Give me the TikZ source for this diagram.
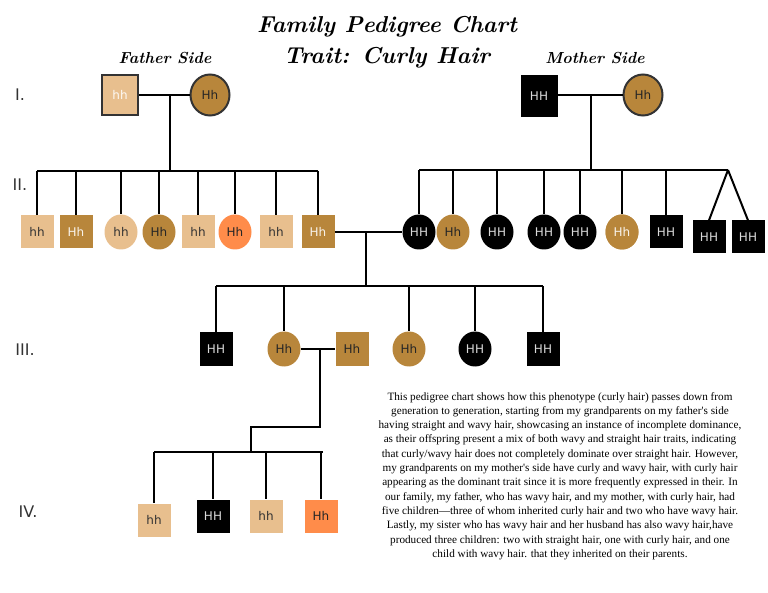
\documentclass[tikz,border=0pt]{standalone}
\usepackage{fontspec}
\setsansfont{DejaVu Sans}
\newfontfamily\parafont{Liberation Serif}
\usetikzlibrary{shapes.geometric}
\definecolor{straight}{HTML}{E8BF8E}
\definecolor{wavy}{HTML}{B8863B}
\definecolor{curlyorange}{HTML}{FF8C4A}
\tikzset{
  sq/.style={rectangle,minimum width=33pt,minimum height=33pt,inner sep=0pt,font=\sffamily\fontsize{12}{14}\selectfont},
  ci/.style={ellipse,minimum width=33pt,minimum height=35pt,inner sep=0pt,font=\sffamily\fontsize{12}{14}\selectfont},
  hh/.style={fill=straight,text=black!80},
  Hh/.style={fill=wavy,text=black!85},
  HH/.style={fill=black,text=white!85!black},
  Ho/.style={fill=curlyorange,text=black!85},
  line/.style={line width=2pt,black},
  gen/.style={font=\sffamily\fontsize{16}{18}\selectfont,text=black!80}
}
\begin{document}
\begin{tikzpicture}[x=1pt,y=-1pt]
    \useasboundingbox (0,0) rectangle (768,593);
    % titles
    \node[font=\bfseries\itshape\fontsize{23}{26}\selectfont] (title) at (387,27) {Family Pedigree Chart};
    \node[font=\bfseries\itshape\fontsize{23}{26}\selectfont] (trait) at (387,58) {Trait: Curly Hair};
    \node[font=\bfseries\itshape\fontsize{16}{18}\selectfont] (fside) at (165,58) {Father Side};
    \node[font=\bfseries\itshape\fontsize{16}{18}\selectfont] (mside) at (595,58) {Mother Side};
    \node[gen] (g1) at (20,95) {I.};
    \node[gen] (g2) at (20,185) {II.};
    \node[gen] (g3) at (25,350) {III.};
    \node[gen] (g4) at (28,512) {IV.};
    % generation I
    \node[sq,hh,draw=black!80,line width=2pt,minimum width=36pt,minimum height=40pt,text=white!90!straight] (fgf) at (120,95) {hh};
    \node[ci,Hh,draw=black!80,line width=2pt,minimum width=39pt,minimum height=41pt] (fgm) at (210,95) {Hh};
    \node[sq,HH,minimum width=37pt,minimum height=42pt] (mgf) at (539,96) {HH};
    \node[ci,Hh,draw=black!80,line width=2pt,minimum width=39pt,minimum height=41pt] (mgm) at (643,95) {Hh};
    \coordinate (fc) at (170,95);
    \coordinate (mc) at (591,95);
    \draw[line] (fgf) -- (fgm);
    \draw[line] (mgf.east |- mgm) -- (mgm);
    \draw[line] (fc) -- (170,171);
    \draw[line] (mc) -- (591,170);
    % generation II, father side
    \draw[line] (37,171) -- (318,171);
    \foreach \n/\x/\s/\c/\t in {a/37/sq/hh/hh,b/76/sq/Hh/Hh,c/121/ci/hh/hh,d/159/ci/Hh/Hh,e/198/sq/hh/hh,f/235/ci/Ho/Hh,g/276/sq/hh/hh,h/318/sq/Hh/Hh}
    {
        \node[\s,\c] (f\n) at (\x,232) {\t};
        \draw[line] (\x,171) -- (f\n);
    }
    \node at (fh) [sq,Hh,text=white!90!wavy] {Hh};
    \node at (fb) [sq,Hh,text=white!90!wavy] {Hh};
    % generation II, mother side
    \draw[line] (419,170) -- (728,170);
    \foreach \n/\x/\s/\c/\t in {a/419/ci/HH/HH,b/453/ci/Hh/Hh,c/497/ci/HH/HH,d/544/ci/HH/HH,e/580/ci/HH/HH,f/622/ci/Hh/Hh,g/666/sq/HH/HH}
    {
        \node[\s,\c] (m\n) at (\x,232) {\t};
        \draw[line] (\x,170) -- (m\n);
    }
    \node at (mf) [ci,Hh,text=white!90!wavy] {Hh};
    \coordinate (twin) at (728,170);
    \node[sq,HH] (mh) at (709,237) {HH};
    \node[sq,HH] (mi) at (748,237) {HH};
    \draw[line] (twin) -- (mh.north);
    \draw[line] (twin) -- (mi.north);
    % parents
    \draw[line] (fh) -- (ma);
    \coordinate (pc) at (366,232);
    \draw[line] (pc) -- (366,286);
    % generation III
    \draw[line] (216,286) -- (543,286);
    \foreach \n/\x/\s/\c/\t in {a/216/sq/HH/HH,b/284/ci/Hh/Hh,c/409/ci/Hh/Hh,d/475/ci/HH/HH,e/543/sq/HH/HH}
    {
        \node[\s,\c] (c\n) at (\x,349) {\t};
        \draw[line] (\x,286) -- (c\n);
    }
    \node[sq,Hh] (sp) at (352,349) {Hh};
    \draw[line] (cb) -- (sp);
    \coordinate (sc) at (320,349);
    \draw[line] (sc) -- (320,427) -- (251,427) -- (251,452);
    % generation IV
    \draw[line] (154,452) -- (323,452);
    \foreach \n/\x/\y/\c/\t in {a/154/520/hh/hh,b/213/516/HH/HH,c/266/516/hh/hh,d/321/516/Ho/Hh}
    {
        \node[sq,\c] (k\n) at (\x,\y) {\t};
        \draw[line] (\x,452) -- (k\n);
    }
    % description
    \node[font=\parafont\fontsize{11.2}{14.3}\selectfont,align=center] (desc) at (560,476) {This pedigree chart shows how this phenotype (curly hair) passes down from\\
generation to generation, starting from my grandparents on my father's side\\
having straight and wavy hair, showcasing an instance of incomplete dominance,\\
as their offspring present a mix of both wavy and straight hair traits, indicating\\
that curly/wavy hair does not completely dominate over straight hair. However,\\
my grandparents on my mother's side have curly and wavy hair, with curly hair\\
appearing as the dominant trait since it is more frequently expressed in their. In\\
our family, my father, who has wavy hair, and my mother, with curly hair, had\\
five children—three of whom inherited curly hair and two who have wavy hair.\\
Lastly, my sister who has wavy hair and her husband has also wavy hair,have\\
produced three children: two with straight hair, one with curly hair, and one\\
child with wavy hair. that they inherited on their parents.};
\end{tikzpicture}
\end{document}
